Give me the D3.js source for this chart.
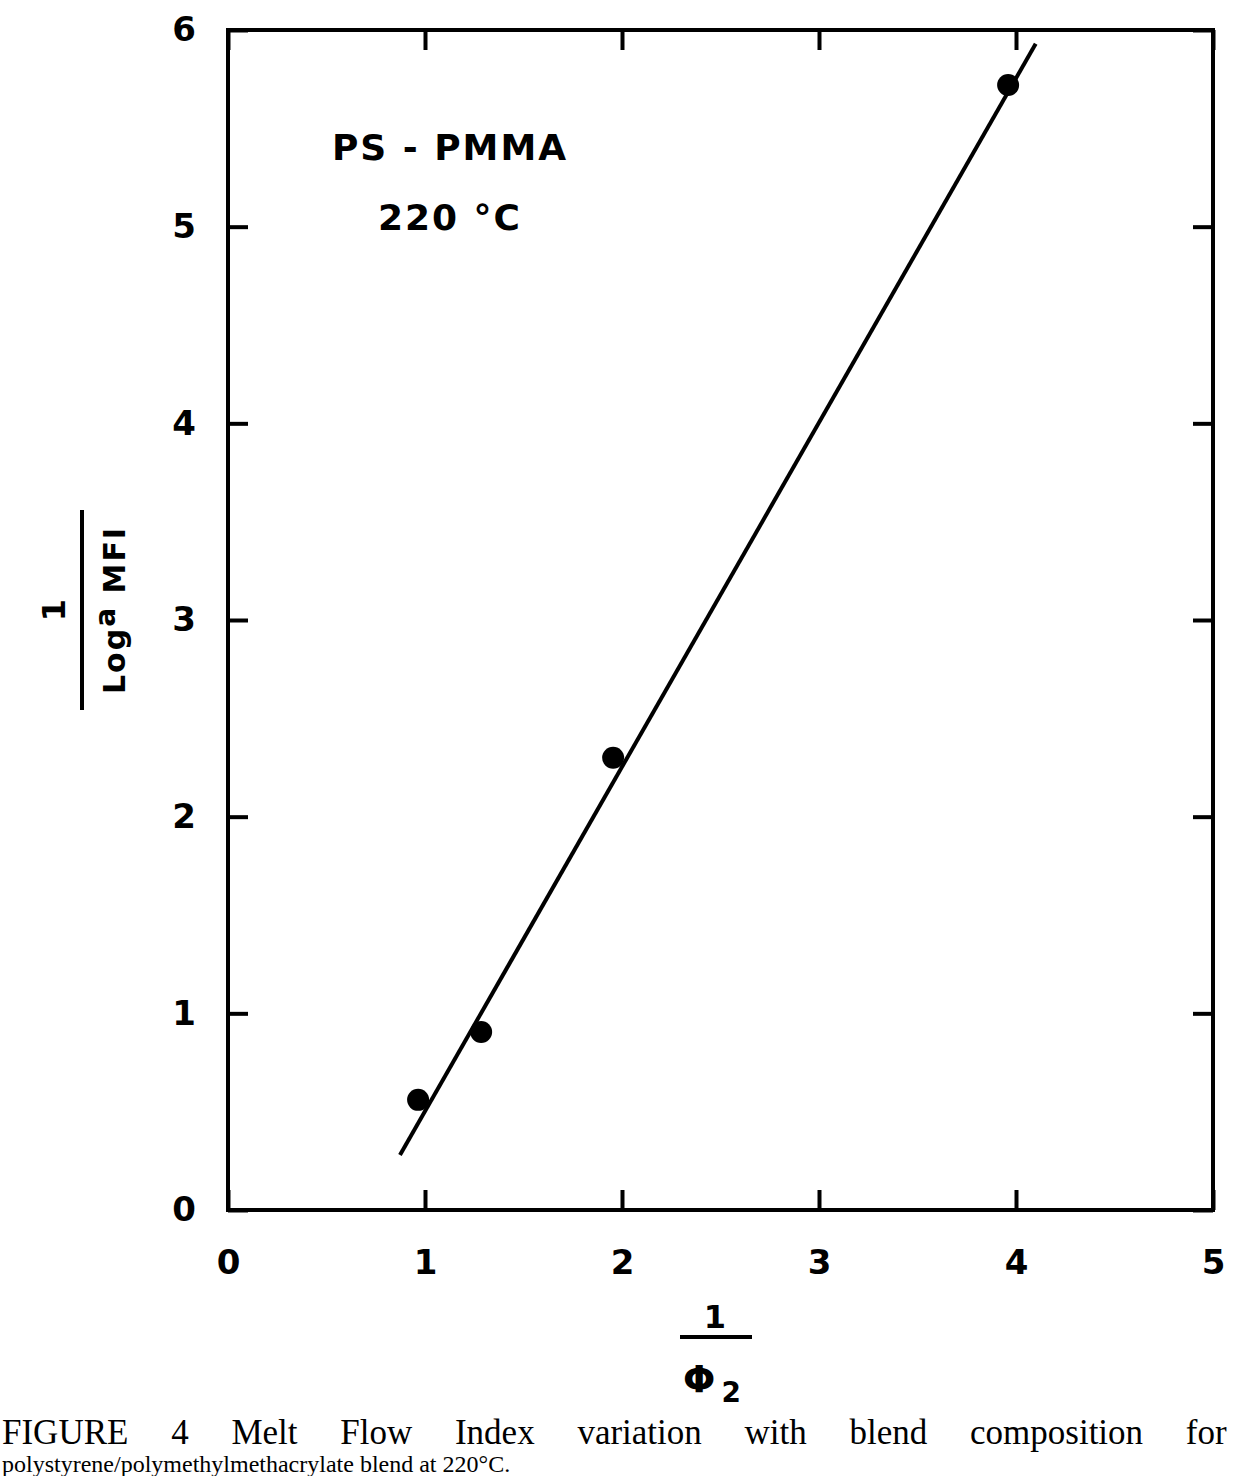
<!DOCTYPE html>
<html><head><meta charset="utf-8">
<script src="https://cdn.jsdelivr.net/npm/d3@7"></script>
<style>body{margin:0;background:#fff}svg{display:block}</style>
</head><body>
<script>
const xTicks = [0,1,2,3,4,5];
const yTicks = [0,1,2,3,4,5,6];
const pointX = [0.965, 1.285, 1.955, 3.96];
const pointY = [0.56, 0.905, 2.30, 5.72];
const fitX = [0.873, 4.10];
const fitY = [0.28, 5.93];

const W = 1259, H = 1476;
const svg = d3.select("body").append("svg").attr("width", W).attr("height", H);
const x = d3.scaleLinear().domain([0,5]).range([228,1213]);
const y = d3.scaleLinear().domain([0,6]).range([1210,30]);
const font = "'DejaVu Sans', sans-serif";

svg.append("rect").attr("x",228).attr("y",30).attr("width",985).attr("height",1180)
  .attr("fill","none").attr("stroke","#000").attr("stroke-width",4);

const tl = 20;
svg.append("g").attr("transform","translate(0,1210)")
  .call(d3.axisBottom(x).tickValues(xTicks).tickSizeInner(-tl).tickSizeOuter(0).tickPadding(tl+20).tickFormat(d3.format("d")))
  .call(g=>{g.select(".domain").remove();g.selectAll("line").attr("stroke-width",4);
    g.selectAll("text").attr("font-family",font).attr("font-weight","bold").attr("font-size",34);});
svg.append("g").attr("transform","translate(0,30)")
  .call(d3.axisTop(x).tickValues(xTicks).tickSizeInner(-tl).tickSizeOuter(0).tickFormat(""))
  .call(g=>{g.select(".domain").remove();g.selectAll("line").attr("stroke-width",4);});
svg.append("g").attr("transform","translate(228,0)")
  .call(d3.axisLeft(y).tickValues(yTicks).tickSizeInner(-tl).tickSizeOuter(0).tickPadding(tl+12).tickFormat(d3.format("d")))
  .call(g=>{g.select(".domain").remove();g.selectAll("line").attr("stroke-width",4);
    g.selectAll("text").attr("font-family",font).attr("font-weight","bold").attr("font-size",34);});
svg.append("g").attr("transform","translate(1213,0)")
  .call(d3.axisRight(y).tickValues(yTicks).tickSizeInner(-tl).tickSizeOuter(0).tickFormat(""))
  .call(g=>{g.select(".domain").remove();g.selectAll("line").attr("stroke-width",4);});

svg.append("line").attr("x1",x(fitX[0])).attr("y1",y(fitY[0])).attr("x2",x(fitX[1])).attr("y2",y(fitY[1]))
  .attr("stroke","#000").attr("stroke-width",4);
svg.selectAll("circle.p").data(pointX).enter().append("circle")
  .attr("cx",(d)=>x(d)).attr("cy",(d,i)=>y(pointY[i])).attr("r",11).attr("fill","#000");

svg.append("text").attr("x",450).attr("y",160).attr("text-anchor","middle")
  .attr("font-family",font).attr("font-weight","bold").attr("font-size",36).attr("letter-spacing",2).text("PS - PMMA");
svg.append("text").attr("x",450).attr("y",230).attr("text-anchor","middle")
  .attr("font-family",font).attr("font-weight","bold").attr("font-size",36).attr("letter-spacing",2).text("220 °C");

svg.append("text").attr("x",715).attr("y",1328).attr("text-anchor","middle")
  .attr("font-family",font).attr("font-weight","bold").attr("font-size",32).text("1");
svg.append("line").attr("x1",680).attr("x2",752).attr("y1",1337).attr("y2",1337).attr("stroke","#000").attr("stroke-width",4);
const xl = svg.append("text").attr("x",712).attr("y",1392).attr("text-anchor","middle")
  .attr("font-family",font).attr("font-weight","bold").attr("font-size",38);
xl.append("tspan").text("Φ");
xl.append("tspan").attr("font-size",28).attr("dy",10).attr("dx",6).text("2");

const yl = svg.append("g").attr("transform","translate(0,610) rotate(-90)");
yl.append("text").attr("x",0).attr("y",65).attr("text-anchor","middle")
  .attr("font-family",font).attr("font-weight","bold").attr("font-size",32).text("1");
yl.append("line").attr("x1",-100).attr("x2",100).attr("y1",82).attr("y2",82).attr("stroke","#000").attr("stroke-width",4);
const yt = yl.append("text").attr("x",0).attr("y",125).attr("text-anchor","middle")
  .attr("font-family",font).attr("font-weight","bold").attr("font-size",30).attr("letter-spacing",2);
yt.append("tspan").text("Log");
yt.append("tspan").attr("dy",-10).attr("font-size",28).text("a");
yt.append("tspan").attr("dy",10).text(" MFI");

svg.append("text").attr("x",2).attr("y",1444).attr("word-spacing",34)
  .attr("font-family","'Liberation Serif', serif").attr("font-size",35).text("FIGURE 4 Melt Flow Index variation with blend composition for");
svg.append("text").attr("x",2).attr("y",1472)
  .attr("font-family","'Liberation Serif', serif").attr("font-size",24).text("polystyrene/polymethylmethacrylate blend at 220°C.");
</script>
</body></html>
